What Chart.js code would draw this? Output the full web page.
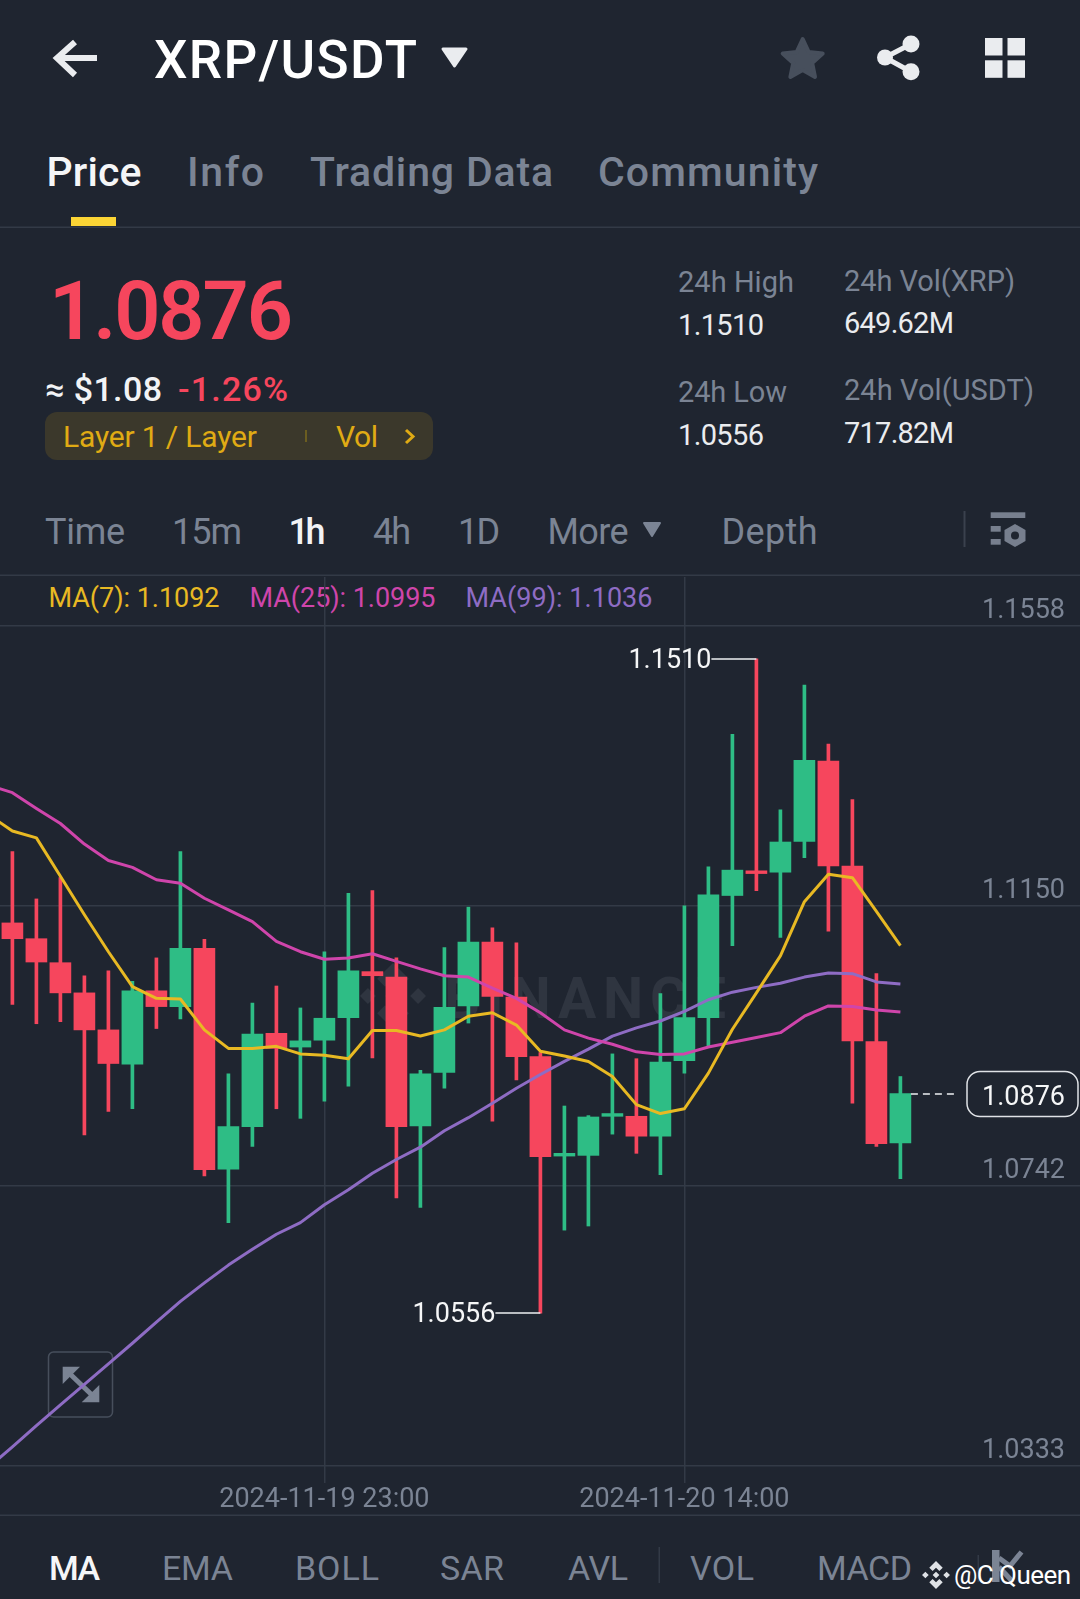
<!DOCTYPE html>
<html><head><meta charset="utf-8">
<style>
html,body{margin:0;padding:0;background:#1f2530;width:1080px;height:1599px;overflow:hidden}
#bg{position:absolute;left:0;top:0}
#c{position:absolute;left:0;top:0}
text{font-family:Roboto,sans-serif}
.g{fill:#7b8494}.w{fill:#eaecef}.r{fill:#f6465d}.y{fill:#e0ab14}
</style>
<script src="https://cdn.jsdelivr.net/npm/chart.js@4"></script>
</head><body>
<svg id="bg" width="1080" height="1599" viewBox="0 0 1080 1599" xmlns="http://www.w3.org/2000/svg">
<defs><g id="bn"><path d="M0-25 12-13 6-7 0-13-6-7-12-13ZM-25 0-19-6-13 0-19 6ZM25 0 19-6 13 0 19 6ZM0-6 6 0 0 6-6 0ZM0 25 12 13 6 7 0 13-6 7-12 13Z"/></g></defs>
<!-- watermark -->
<use href="#bn" transform="translate(393 996) scale(1.32)" fill="#2f3540"/>
<text x="444" y="1018" font-size="57" font-weight="700" fill="#2f3540" textLength="282">BINANCE</text>
<!-- header -->
<path d="M97 58H57M75 42 57 58 75 75" fill="none" stroke="#eaecef" stroke-width="6"/>
<text x="154" y="78" font-size="53" font-weight="500" style="fill:#fff" textLength="263">XRP/USDT</text>
<path d="M443 49H466L454.500 66Z" fill="#eaecef" stroke="#eaecef" stroke-width="3" stroke-linejoin="round"/>
<path d="M802.700 39 808.600 51.900 822.700 53.500 812.200 63.100 815 77 802.700 70 790.400 77 793.200 63.100 782.700 53.500 796.800 51.900Z" fill="#474f5c" stroke="#474f5c" stroke-width="4" stroke-linejoin="round"/>
<g fill="#eaecef"><circle cx="885" cy="57.500" r="8"/><circle cx="911" cy="44" r="8.500"/><circle cx="911" cy="71.700" r="8.500"/>
<path d="M885 57.500 911 44M885 57.500 911 71.700" stroke="#eaecef" stroke-width="5" fill="none"/>
<rect x="985" y="38" width="17.500" height="17.500"/><rect x="1007.500" y="38" width="17.500" height="17.500"/><rect x="985" y="60.300" width="17.500" height="17.500"/><rect x="1007.500" y="60.300" width="17.500" height="17.500"/></g>
<!-- tabs -->
<text x="46.500" y="186" font-size="41" font-weight="500" style="fill:#f5f6f7" textLength="95">Price</text>
<g class="g" font-size="41" font-weight="500"><text x="187" y="186" textLength="77">Info</text><text x="310" y="186" textLength="243">Trading Data</text><text x="598" y="186" textLength="220">Community</text></g>
<rect x="71" y="217" width="45" height="9" fill="#fcd535"/>
<rect x="0" y="226.500" width="1080" height="1.500" fill="#333a46"/>
<!-- price -->
<text x="49" y="339" font-size="81" font-weight="600" class="r" textLength="244">1.0876</text>
<text x="45" y="401" font-size="34" font-weight="500" style="fill:#f2f3f5" textLength="117">≈ $1.08</text>
<text x="178" y="401" font-size="34" font-weight="500" class="r" textLength="110">-1.26%</text>
<rect x="45" y="412" width="388" height="48" rx="12" fill="#3b382b"/>
<text x="63" y="447" font-size="30" class="y" textLength="194">Layer 1 / Layer</text>
<rect x="305" y="430" width="2" height="12" fill="#6b5d20"/>
<text x="336" y="447" font-size="30" class="y" textLength="42">Vol</text>
<path d="M406 430 413 436.500 406 443" fill="none" stroke="#e0ab14" stroke-width="3"/>
<!-- stats -->
<g font-size="29"><text class="g" x="678" y="292" textLength="116">24h High</text><text class="g" x="844" y="291" textLength="171">24h Vol(XRP)</text>
<text class="g" x="678" y="402" textLength="109">24h Low</text><text class="g" x="844" y="400" textLength="190">24h Vol(USDT)</text>
<text class="w" x="678" y="335" textLength="86">1.1510</text><text class="w" x="844" y="333" textLength="110">649.62M</text>
<text class="w" x="678" y="445" textLength="86">1.0556</text><text class="w" x="844" y="443" textLength="110">717.82M</text></g>
<!-- intervals -->
<g font-size="36" class="g"><text x="45" y="544" textLength="80">Time</text><text x="172" y="544" textLength="70">15m</text>
<text x="288.500" y="544" textLength="37" font-weight="500" style="fill:#f2f3f5">1h</text><text x="373" y="544" textLength="38">4h</text><text x="458" y="544" textLength="42">1D</text><text x="547.500" y="544" textLength="81">More</text><text x="721.500" y="544" textLength="96">Depth</text></g>
<path d="M644 523H660L652 536Z" fill="#7b8494" stroke="#7b8494" stroke-width="2" stroke-linejoin="round"/>
<rect x="963.500" y="511" width="2" height="36" fill="#3a414d"/>
<g fill="#777f8e"><rect x="990.700" y="512.300" width="34.600" height="5.700"/><rect x="990.700" y="526" width="10" height="5.700"/><rect x="990.700" y="539" width="10" height="5.700"/>
<path d="M1015 524 1025.500 530V541L1015 547 1004.500 541V530Z"/></g><circle cx="1015" cy="535.500" r="4" fill="#1f2530"/>
<rect x="0" y="574.500" width="1080" height="1.500" fill="#333a46"/>
<!-- MA legend -->
<g font-size="27"><text x="48.500" y="607" fill="#e8b923" textLength="171">MA(7): 1.1092</text><text x="249.500" y="607" fill="#cf45ab" textLength="186">MA(25): 1.0995</text><text x="465.500" y="607" fill="#8e6cc4" textLength="187">MA(99): 1.1036</text></g>
<!-- expand -->
<rect x="48.500" y="1352" width="64" height="65" rx="5" fill="none" stroke="#474f5c" stroke-width="1.500"/>
<g fill="#7b8494"><path d="M62.700 1366.700H80L62.700 1384Z"/><path d="M99.300 1402.300H81.700L99.300 1385Z"/></g>
<path d="M69 1373 93 1396" stroke="#7b8494" stroke-width="5" fill="none"/>
<!-- bottom -->
<rect x="0" y="1514.500" width="1080" height="1.500" fill="#333a46"/>
<g font-size="34" class="g"><text x="49" y="1580" textLength="51" font-weight="500" style="fill:#f5f6f7">MA</text><text x="162" y="1580" textLength="71">EMA</text><text x="295" y="1580" textLength="84">BOLL</text><text x="440" y="1580" textLength="64">SAR</text><text x="568" y="1580" textLength="60">AVL</text><text x="690" y="1580" textLength="64">VOL</text><text x="817" y="1580" textLength="95">MACD</text></g>
<rect x="658.500" y="1547" width="1.500" height="36" fill="#333a46"/>
<rect x="977.500" y="1555" width="1.500" height="27" fill="#333a46"/>
<rect x="992" y="1550" width="7.500" height="32" fill="#7b8494"/>
<path d="M999 1558 1010 1566 1021.500 1552M999 1567 1012 1581" fill="none" stroke="#7b8494" stroke-width="5"/>
<use href="#bn" transform="translate(936 1575) scale(.56)" fill="#dfe2e6"/>
<text x="954" y="1584" font-size="26" fill="#fff" textLength="117">@C Queen</text>
</svg>
<canvas id="c" width="1080" height="1599"></canvas>
<script>
const times = ["2024-11-19 09:00","2024-11-19 10:00","2024-11-19 11:00","2024-11-19 12:00","2024-11-19 13:00","2024-11-19 14:00","2024-11-19 15:00","2024-11-19 16:00","2024-11-19 17:00","2024-11-19 18:00","2024-11-19 19:00","2024-11-19 20:00","2024-11-19 21:00","2024-11-19 22:00","2024-11-19 23:00","2024-11-20 00:00","2024-11-20 01:00","2024-11-20 02:00","2024-11-20 03:00","2024-11-20 04:00","2024-11-20 05:00","2024-11-20 06:00","2024-11-20 07:00","2024-11-20 08:00","2024-11-20 09:00","2024-11-20 10:00","2024-11-20 11:00","2024-11-20 12:00","2024-11-20 13:00","2024-11-20 14:00","2024-11-20 15:00","2024-11-20 16:00","2024-11-20 17:00","2024-11-20 18:00","2024-11-20 19:00","2024-11-20 20:00","2024-11-20 21:00","2024-11-20 22:00","2024-11-20 23:00"];
const opens = [null,1.1125,1.1102,1.1067,1.1023,1.0969,1.0919,1.1026,1.1003,1.1088,1.0766,1.0828,1.0964,1.0944,1.0954,1.0987,1.1054,1.1046,1.0829,1.0907,1.1004,1.1097,1.1017,1.0930,1.0785,1.0786,1.0843,1.0843,1.0814,1.0924,1.0987,1.1165,1.1201,1.1199,1.1244,1.1361,1.1208,1.0952,1.0804];
const closes = [null,1.1102,1.1068,1.1023,1.0969,1.0920,1.1026,1.1003,1.1088,1.0765,1.0828,1.0963,1.0942,1.0953,1.0986,1.1055,1.1048,1.0828,1.0905,1.1002,1.1097,1.1018,1.0930,1.0784,1.0789,1.0842,1.0847,1.0814,1.0922,1.0987,1.1166,1.1202,1.1197,1.1243,1.1362,1.1208,1.0953,1.0803,1.0876];
const highs = [null,1.1229,1.1160,1.1191,1.1048,1.1055,1.1040,1.1074,1.1229,1.1101,1.0905,1.1008,1.1033,1.1001,1.1083,1.1168,1.1172,1.1074,1.0910,1.1089,1.1148,1.1118,1.1096,1.0936,1.0858,1.0844,1.0934,1.0927,1.1022,1.1150,1.1207,1.1400,1.1510,1.1290,1.1472,1.1386,1.1305,1.1051,1.0901];
const lows = [null,1.1006,1.0978,1.0981,1.0816,1.0850,1.0854,1.0971,1.0985,1.0756,1.0688,1.0799,1.0854,1.0840,1.0865,1.0887,1.0928,1.0724,1.0710,1.0884,1.0979,1.0836,1.0896,1.0556,1.0677,1.0683,1.0817,1.0789,1.0758,1.0906,1.0945,1.1092,1.1172,1.1104,1.1220,1.1113,1.0862,1.0799,1.0752];
const ma7 = [1.1283,1.1259,1.1249,1.1193,1.1137,1.1083,1.1032,1.1015,1.1014,1.0969,1.0942,1.0942,1.0945,1.0934,1.0932,1.0927,1.0968,1.0968,1.0960,1.0969,1.0989,1.0994,1.0976,1.0938,1.0931,1.0923,1.0901,1.0860,1.0847,1.0854,1.0906,1.0970,1.1023,1.1077,1.1156,1.1196,1.1191,1.1142,1.1092];
const ma25 = [1.1326,1.1315,1.1292,1.1270,1.1240,1.1216,1.1206,1.1188,1.1183,1.1161,1.1144,1.1127,1.1098,1.1083,1.1072,1.1074,1.1080,1.1069,1.1058,1.1048,1.1046,1.1030,1.1015,1.0994,1.0969,1.0957,1.0948,1.0937,1.0933,1.0934,1.0944,1.0951,1.0958,1.0965,1.0989,1.1004,1.1003,1.0998,1.0995];
const ma99 = [1.0331,1.0361,1.0392,1.0422,1.0452,1.0482,1.0512,1.0543,1.0573,1.0600,1.0626,1.0649,1.0671,1.0688,1.0714,1.0736,1.0760,1.0780,1.0798,1.0822,1.0841,1.0862,1.0884,1.0904,1.0923,1.0941,1.0960,1.0972,1.0982,1.0996,1.1013,1.1024,1.1031,1.1037,1.1046,1.1052,1.1051,1.1039,1.1036];
const yTicks = [1.1558,1.1150,1.0742,1.0333];
const xTickTimes = ["2024-11-19 23:00","2024-11-20 14:00"];

const UP='#2ebd85', DOWN='#f6465d', GRID='#333a46', MUTED='#7b8494', FONT='Roboto';
const idx = times.map((_,i)=>i).filter(i=>opens[i]!==null);
const col = c => closes[c.raw.x]>=opens[c.raw.x] ? UP : DOWN;
const line = (label,data,color,order)=>({type:'line',label,order,data:data.map((y,x)=>({x,y})),borderColor:color,borderWidth:3,pointRadius:0,tension:0,borderJoinStyle:'round',fill:false});

const extras = {id:'extras',afterDatasetsDraw(ch){
  const c=ch.ctx,X=ch.scales.x,Y=ch.scales.y;
  c.save();c.font='27px '+FONT;c.strokeStyle='#eef0f2';c.fillStyle='#f5f6f7';c.lineWidth=1.5;
  const hi=highs.indexOf(Math.max(...idx.map(i=>highs[i]))), lo=lows.indexOf(Math.min(...idx.map(i=>lows[i])));
  [[hi,highs[hi]],[lo,lows[lo]]].forEach(([i,v])=>{
    const px=X.getPixelForValue(i),py=Y.getPixelForValue(v);
    c.beginPath();c.moveTo(px,py);c.lineTo(px-45,py);c.stroke();
    c.textAlign='right';c.textBaseline='alphabetic';c.fillText(v.toFixed(4),px-45,py+9);
  });
  const last=times.length-1,v=closes[last],py=Math.round(Y.getPixelForValue(v)),px=X.getPixelForValue(last)+10.5;
  c.setLineDash([7,5]);c.beginPath();c.moveTo(px,py);c.lineTo(px+43,py);c.stroke();c.setLineDash([]);
  c.beginPath();c.roundRect(967,py-22.5,111,45,13);c.fillStyle='#1f2530';c.fill();c.strokeStyle='#dfe2e6';c.stroke();
  c.fillStyle='#f5f6f7';c.textAlign='right';c.fillText(v.toFixed(4),1065,py+11);
  c.restore();
}};

new Chart(document.getElementById('c'),{
  type:'bar',
  data:{datasets:[
    line('MA(7)',ma7,'#e8b923',0),
    line('MA(25)',ma25,'#cf45ab',0),
    line('MA(99)',ma99,'#8e6cc4',0),
    {label:'body',order:1,grouped:false,barThickness:21,data:idx.map(i=>({x:i,y:[opens[i],closes[i]]})),backgroundColor:col,borderWidth:0},
    {label:'wick',order:2,grouped:false,barThickness:3,data:idx.map(i=>({x:i,y:[lows[i],highs[i]]})),backgroundColor:col,borderWidth:0}
  ]},
  options:{
    responsive:false,devicePixelRatio:1,animation:false,events:[],
    layout:{padding:{top:577,left:0,right:0,bottom:0},autoPadding:false},
    plugins:{legend:{display:false},tooltip:{enabled:false}},
    scales:{
      x:{type:'linear',min:0.4833,max:45.4833,offset:false,
        afterBuildTicks(s){s.ticks=xTickTimes.map(t=>({value:times.indexOf(t)}));},
        afterFit(s){s.height=133;},
        grid:{color:GRID,lineWidth:1.5,tickLength:17,drawTicks:true,offset:false},border:{display:false},
        ticks:{color:MUTED,font:{family:FONT,size:27},padding:1,maxRotation:0,autoSkip:false,callback:v=>times[v]}},
      y:{type:'linear',position:'right',min:1.0333,max:1.16295,
        afterBuildTicks(s){s.ticks=yTicks.map(value=>({value}));},
        afterFit(s){s.width=0;},
        grid:{color:GRID,lineWidth:1.5,drawTicks:false},border:{display:false},
        ticks:{color:MUTED,font:{family:FONT,size:27},mirror:true,padding:-15,labelOffset:-14.5,autoSkip:false,callback:v=>v.toFixed(4)}}
    }
  },
  plugins:[extras]
});
</script>
</body></html>
